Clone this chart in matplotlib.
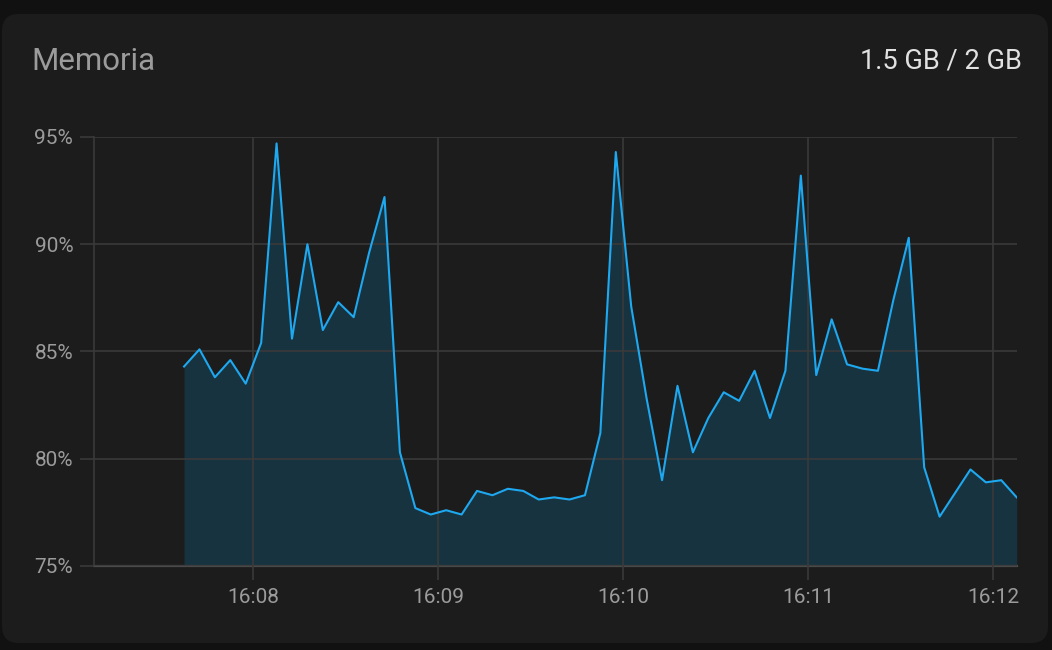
import pandas as pd
import matplotlib
matplotlib.use('Agg')
import matplotlib.pyplot as plt
import matplotlib.dates as mdates
from matplotlib.patches import FancyBboxPatch

plt.rcParams['font.family'] = ['Roboto', 'DejaVu Sans']

# memory usage samples, one every 5 seconds
start_time = '2024-01-01 16:07:37.6'
sample_step = '5s'
memory_pct = [
    84.3, 85.1, 83.8, 84.6, 83.5, 85.4, 94.7, 85.6, 90.0, 86.0,
    87.3, 86.6, 89.6, 92.2, 80.3, 77.7, 77.4, 77.6, 77.4, 78.5,
    78.3, 78.6, 78.5, 78.1, 78.2, 78.1, 78.3, 81.2, 94.3, 87.1,
    82.8, 79.0, 83.4, 80.3, 81.9, 83.1, 82.7, 84.1, 81.9, 84.1,
    93.2, 83.9, 86.5, 84.4, 84.2, 84.1, 87.4, 90.3, 79.6, 77.3,
    78.4, 79.5, 78.9, 79.0, 78.2,
]
y_ticks = [75, 80, 85, 90, 95]
x_ticks = ['16:08', '16:09', '16:10', '16:11', '16:12']
view_start = '2024-01-01 16:07:08.4'

title = 'Memoria'
state = '1.5 GB / 2 GB'

times = pd.date_range(start=start_time, periods=len(memory_pct), freq=sample_step)
tick_times = pd.to_datetime(['2024-01-01 ' + t for t in x_ticks])

outer_bg = '#111111'
card_bg = '#1c1c1c'
grid_col = '#3a3a3a'
line_col = '#1ea8f0'
text_col = '#9b9b9b'

fig = plt.figure(figsize=(10.52, 6.5), dpi=100)
fig.patch.set_facecolor(outer_bg)

# the card with rounded corners
card = FancyBboxPatch((2 / 1052, 7 / 650), 1046 / 1052, 629 / 650,
                      boxstyle='round,pad=0,rounding_size=0.016',
                      transform=fig.transFigure, facecolor=card_bg,
                      edgecolor='none', zorder=-5, mutation_aspect=1052 / 650)
fig.patches.append(card)

fig.text(31 / 1052, 1 - 70 / 650, title, color=text_col, fontsize=22.5,
         ha='left', va='baseline')
fig.text(1022 / 1052, 1 - 69 / 650, state, color='#e1e1e1', fontsize=19.5,
         ha='right', va='baseline')

ax = fig.add_axes([94 / 1052, 84 / 650, 922.7 / 1052, 429 / 650])
ax.set_facecolor('none')
ax.set_zorder(2)

ax.fill_between(times, memory_pct, 75, color='#03a9f4', alpha=0.17,
                linewidth=0, zorder=1)
ax.plot(times, memory_pct, color=line_col, linewidth=1.5, zorder=3)

ax.set_xlim(pd.Timestamp(view_start), times[-1])
ax.set_ylim(75, 95)
ax.set_yticks(y_ticks)
ax.set_yticklabels([f'{v}%' for v in y_ticks])
ax.set_xticks(tick_times)
ax.xaxis.set_major_formatter(mdates.DateFormatter('%H:%M'))

ax.grid(True, color=grid_col, linewidth=1.2, zorder=2)
ax.set_axisbelow(False)
for side in ['top', 'right']:
    ax.spines[side].set_visible(False)
ax.spines['left'].set_color(grid_col)
ax.spines['left'].set_linewidth(1.2)
ax.spines['bottom'].set_color('#4a4a4a')
ax.spines['bottom'].set_linewidth(1.6)
ax.tick_params(axis='both', colors=grid_col, length=10, width=1.2,
               labelcolor=text_col, labelsize=15)
ax.tick_params(axis='y', pad=5)
ax.tick_params(axis='x', pad=6)

fig.savefig('out.png', dpi=100, facecolor=outer_bg)
